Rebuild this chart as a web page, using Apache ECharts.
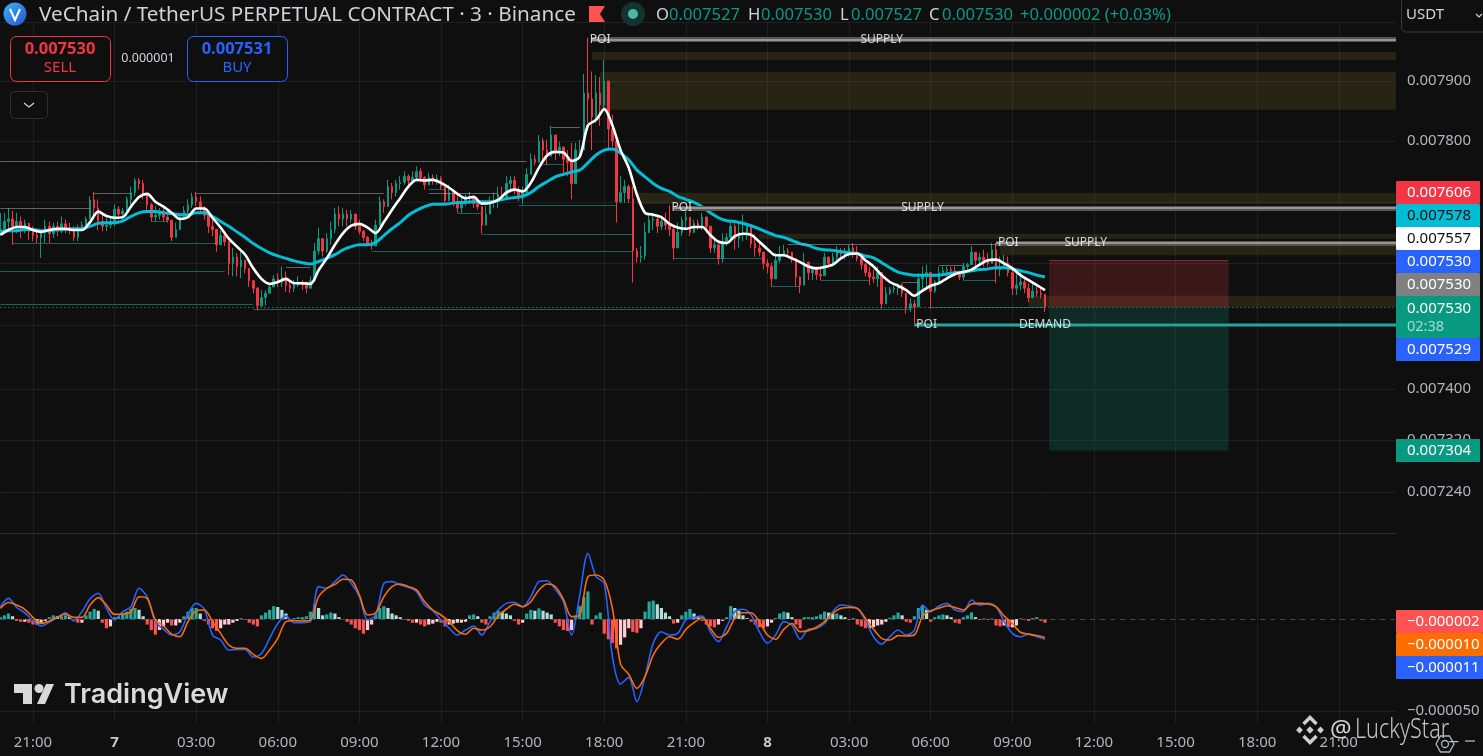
<!DOCTYPE html>
<html><head><meta charset="utf-8">
<style>html,body{margin:0;padding:0;background:#0f0f0f;overflow:hidden}#c{width:1483px;height:756px}</style>
<script src="https://cdn.jsdelivr.net/npm/echarts@6/dist/echarts.min.js"></script>
</head><body><div id="c"></div>
<script>
// All prices in units of 0.000001 USDT. Each slot is 9 minutes of the picture.
const tickSlots=[8,28,48,68,88,108,128,148,168,188,208,228,248,268,288,308,328];
const tickLabels=['21:00','7','03:00','06:00','09:00','12:00','15:00','18:00','21:00','8','03:00','06:00','09:00','12:00','15:00','18:00','21:00'];
const priceTicks=[8000,7900,7800,7700,7600,7500,7400,7320,7240];
const priceLabelTicks=[7900,7800,7400,7320,7240];
const macdTicks=[-50];
const opens=[7650,7655,7668,7672,7660,7668,7658,7665,7652,7645,7642,7650,7660,7648,7660,7652,7664,7658,7656,7642,7655,7662,7672,7703,7690,7668,7660,7662,7668,7688,7680,7685,7704,7715,7735,7730,7712,7695,7675,7678,7685,7675,7670,7642,7655,7675,7685,7695,7708,7700,7690,7678,7660,7655,7630,7645,7635,7600,7610,7595,7605,7592,7572,7560,7532,7545,7552,7562,7575,7570,7578,7565,7560,7565,7570,7565,7560,7572,7620,7640,7620,7640,7655,7680,7672,7680,7672,7680,7660,7652,7642,7632,7628,7662,7700,7692,7725,7715,7730,7732,7742,7735,7740,7750,7740,7728,7740,7735,7738,7725,7702,7715,7700,7690,7698,7705,7708,7697,7692,7662,7680,7700,7700,7712,7708,7730,7735,7720,7706,7715,7745,7770,7765,7800,7785,7775,7810,7785,7790,7770,7765,7730,7785,7785,7880,7870,7840,7880,7860,7900,7820,7800,7700,7715,7725,7705,7620,7610,7612,7650,7670,7672,7660,7668,7662,7655,7625,7650,7670,7675,7650,7665,7660,7675,7660,7625,7630,7608,7635,7642,7660,7640,7650,7650,7660,7632,7625,7618,7600,7595,7575,7605,7615,7620,7618,7608,7578,7565,7602,7585,7590,7582,7580,7610,7600,7610,7620,7615,7618,7625,7615,7608,7598,7585,7578,7575,7585,7535,7552,7558,7560,7565,7552,7528,7535,7530,7575,7580,7585,7555,7570,7585,7588,7590,7588,7585,7578,7595,7598,7618,7605,7610,7605,7600,7622,7590,7595,7600,7585,7560,7565,7570,7560,7545,7555,7552,7550];
const closes=[7655,7668,7672,7660,7668,7658,7665,7652,7645,7642,7650,7660,7648,7660,7652,7664,7658,7656,7642,7655,7662,7672,7703,7690,7668,7660,7662,7668,7688,7680,7685,7704,7715,7735,7730,7712,7695,7675,7678,7685,7675,7670,7642,7655,7675,7685,7695,7708,7700,7690,7678,7660,7655,7630,7645,7635,7600,7610,7595,7605,7592,7572,7560,7532,7545,7552,7562,7575,7570,7578,7565,7560,7565,7570,7565,7560,7572,7620,7640,7620,7640,7655,7680,7672,7680,7672,7680,7660,7652,7642,7632,7628,7662,7700,7692,7725,7715,7730,7732,7742,7735,7740,7750,7740,7728,7740,7735,7738,7725,7702,7715,7700,7690,7698,7705,7708,7697,7692,7662,7680,7700,7700,7712,7708,7730,7735,7720,7706,7715,7745,7770,7765,7800,7785,7775,7810,7785,7790,7770,7765,7730,7785,7785,7880,7870,7840,7880,7860,7900,7820,7800,7700,7715,7725,7705,7620,7610,7612,7650,7670,7672,7660,7668,7662,7655,7625,7650,7670,7675,7650,7665,7660,7675,7660,7625,7630,7608,7635,7642,7660,7640,7650,7650,7660,7632,7625,7618,7600,7595,7575,7605,7615,7620,7618,7608,7578,7565,7602,7585,7590,7582,7580,7610,7600,7610,7620,7615,7618,7625,7615,7608,7598,7585,7578,7575,7585,7535,7552,7558,7560,7565,7552,7528,7535,7530,7575,7580,7585,7555,7570,7585,7588,7590,7588,7585,7578,7595,7598,7618,7605,7610,7605,7600,7622,7590,7595,7600,7585,7560,7565,7570,7560,7545,7555,7552,7550,7530];
const highs=[7682,7682,7690,7685,7682,7676,7671,7660,7660,7654,7652,7671,7668,7666,7668,7676,7671,7666,7660,7663,7668,7676,7709,7716,7704,7682,7676,7676,7696,7693,7690,7709,7725,7739,7739,7736,7715,7698,7693,7690,7690,7687,7666,7666,7682,7693,7704,7715,7716,7709,7693,7682,7671,7654,7654,7649,7633,7625,7617,7619,7606,7584,7573,7562,7557,7557,7568,7581,7584,7595,7587,7573,7573,7579,7573,7571,7579,7633,7658,7633,7649,7668,7690,7693,7690,7687,7687,7674,7671,7654,7644,7638,7671,7709,7704,7736,7731,7736,7742,7750,7745,7750,7758,7755,7742,7747,7745,7745,7742,7723,7728,7720,7709,7709,7712,7716,7709,7704,7690,7693,7709,7715,7725,7725,7742,7742,7742,7725,7725,7755,7780,7777,7810,7805,7802,7825,7802,7799,7791,7785,7797,7797,7802,7912,7973,7916,7910,7907,7935,7852,7844,7797,7742,7736,7728,7725,7625,7628,7666,7682,7682,7679,7676,7682,7694,7660,7666,7676,7690,7660,7671,7671,7682,7676,7654,7638,7628,7649,7649,7671,7666,7666,7679,7666,7647,7647,7633,7617,7606,7601,7617,7628,7630,7625,7617,7606,7579,7617,7601,7595,7595,7595,7617,7611,7617,7628,7625,7625,7630,7633,7628,7611,7601,7595,7590,7595,7562,7562,7562,7568,7568,7568,7546,7544,7541,7584,7595,7598,7568,7573,7595,7595,7595,7595,7595,7587,7601,7601,7628,7614,7617,7622,7617,7633,7633,7611,7614,7611,7595,7584,7587,7579,7568,7571,7562,7562,7541];
const lows=[7649,7654,7654,7630,7649,7641,7649,7638,7636,7633,7609,7633,7633,7641,7644,7649,7649,7647,7636,7636,7652,7654,7676,7676,7654,7652,7652,7657,7660,7671,7666,7676,7693,7709,7720,7704,7682,7668,7668,7671,7668,7666,7636,7644,7660,7671,7676,7690,7693,7682,7671,7649,7644,7619,7633,7628,7581,7579,7579,7576,7584,7562,7552,7524,7530,7532,7552,7562,7562,7562,7554,7552,7554,7562,7557,7552,7560,7579,7614,7611,7617,7630,7649,7660,7660,7660,7666,7654,7647,7636,7628,7622,7638,7676,7682,7698,7704,7709,7720,7728,7725,7734,7736,7734,7720,7731,7728,7728,7720,7696,7704,7693,7682,7682,7693,7696,7690,7687,7648,7668,7682,7690,7690,7704,7704,7715,7712,7701,7696,7720,7758,7760,7785,7769,7760,7775,7769,7775,7747,7742,7704,7758,7775,7808,7830,7785,7830,7825,7852,7788,7791,7666,7698,7698,7698,7569,7601,7601,7606,7649,7654,7649,7654,7654,7644,7606,7633,7644,7654,7644,7649,7654,7654,7649,7617,7617,7598,7601,7628,7638,7622,7625,7636,7638,7625,7611,7611,7590,7584,7562,7579,7601,7611,7609,7601,7562,7552,7579,7573,7573,7573,7573,7595,7595,7595,7601,7606,7606,7611,7609,7603,7590,7579,7565,7568,7562,7527,7544,7549,7552,7549,7546,7519,7522,7500,7546,7557,7562,7527,7552,7576,7579,7579,7579,7579,7573,7573,7584,7601,7595,7595,7595,7595,7601,7568,7579,7595,7579,7549,7549,7557,7552,7538,7544,7546,7544,7522];
// Moving averages and MACD lines are read at every second slot.
const emaFast=[7646,7654,7659,7659,7654,7651,7654,7656,7656,7654,7654,7667,7684,7677,7674,7675,7692,7708,7713,7700,7692,7682,7672,7675,7689,7689,7674,7658,7640,7627,7614,7592,7575,7567,7570,7575,7568,7568,7567,7589,7608,7630,7649,7661,7664,7658,7649,7667,7687,7706,7725,7736,7735,7736,7731,7723,7713,7706,7708,7697,7698,7703,7715,7720,7717,7731,7756,7776,7782,7781,7767,7774,7826,7835,7853,7826,7785,7756,7712,7682,7679,7675,7664,7658,7656,7659,7659,7646,7635,7633,7644,7648,7646,7635,7623,7613,7613,7608,7602,7595,7592,7594,7598,7608,7615,7616,7605,7595,7581,7570,7564,7557,7548,7556,7564,7568,7576,7583,7586,7590,7598,7605,7606,7600,7592,7581,7573,7565,7557];
const emaSlow=[7651,7653,7653,7655,7655,7653,7653,7655,7655,7656,7656,7660,7665,7666,7666,7669,7676,7682,7684,7684,7682,7681,7679,7679,7682,7682,7676,7668,7660,7651,7642,7632,7624,7617,7612,7608,7604,7601,7599,7603,7608,7614,7622,7627,7630,7630,7634,7645,7656,7666,7678,7686,7692,7696,7696,7697,7699,7699,7700,7700,7700,7702,7705,7707,7709,7715,7725,7733,7741,7745,7749,7752,7764,7777,7785,7787,7780,7769,7752,7741,7730,7722,7717,7709,7704,7699,7692,7682,7674,7669,7668,7665,7661,7656,7650,7645,7642,7637,7632,7629,7624,7622,7621,7619,7617,7616,7612,7609,7601,7593,7586,7583,7581,7581,7581,7581,7583,7585,7586,7588,7590,7591,7593,7593,7591,7588,7585,7581,7578];
const macdLine=[6.7,11.2,6.3,3.4,-0.9,-3.8,-1.8,0.9,3.4,-1,4,11,14,5.8,-0.5,4,6.7,16.7,12,-1.4,-5.6,-8.7,-6.9,2.7,8.5,5.3,-8.7,-11.4,-16.8,-16.5,-16.5,-20.8,-18.7,-10.5,-2.4,1.6,-2,-2,-1.4,17.6,16.7,20.3,23.9,19.4,12.1,-0.5,2.2,19.4,20.3,18.5,17.2,14.9,7.6,4.5,-0.5,-5,-8.7,-6,-3.8,-8.7,-1.4,4.9,8.5,9.1,6.7,12.1,20.3,20.8,16.1,9.4,-8.7,13,35.7,23,19.4,-20.5,-35.3,-31.7,-44.9,-31.3,-13.2,-6.9,-8.7,-7.8,-0.5,0.9,1.6,-6.9,-12.3,-4.2,4,5.3,2.2,-6.9,-13.2,-8.7,-1.4,-3.3,-11,-5.6,-5.1,-2.4,4,7.6,7.1,5.8,-0.5,-9.6,-13.6,-9.6,-6,-8.7,-6,7.6,4,7.1,8.5,4.9,4,10.3,7.6,8.5,6.7,-1.4,-7.8,-9.6,-8.2,-9.6,-11];
const signalLine=[5.8,9,7.6,5.3,0.9,-2.4,-1.1,0.9,2.7,0.9,0.9,7.6,11.6,7.6,2.5,2.7,4,12.1,11.2,-0.5,-3.8,-8.2,-9.6,-1.4,4.5,4.9,-1.4,-7.8,-14.1,-15.9,-15.9,-19.2,-21.4,-16.8,-10.5,-1.4,-0.9,-1.1,-0.5,12.1,16.7,18.8,21.6,21.2,13,2.2,3.4,12.1,17.6,19,17.6,15.8,9.4,4.9,2.2,-1.4,-6.3,-8.3,-5,-6,-4.2,1.6,5.3,8,6.7,9.4,15.8,19,17.6,10.7,1.3,2.2,23,23.9,21.2,5.8,-24.5,-30,-37.7,-31.3,-19.6,-13.2,-9.6,-10.9,-5.6,-2,0.7,-5,-10,-7.8,0.4,3.4,3.4,-1.4,-8.7,-11,-5.6,-2.4,-6.9,-6.3,-4.5,-1.4,3.1,5.8,6.3,5.8,0.4,-5.6,-10.5,-11.4,-9,-9.2,-8.7,1.6,4.5,5.8,7.2,6.2,4.9,8.2,8.5,8.2,6.7,1.6,-2.4,-7.2,-8.2,-9,-10];
const histogram=[1,2,3,1.5,-1,-1.5,-1.5,-2,-3,-3,-2,-1,1,2,1.5,1.5,2,1.5,-1,-2,-2,2,4,5.5,4.5,-2,-5,-4,1,1.5,3,4,5.5,6,5,1.5,-3,-6,-8.5,-6,-4,-2,-3.5,-3.5,-2,1.5,4,6,6,3,-1,-3,-5,-6.5,-5,-3,-3,-2,-1,0.5,-0.5,-2,-3,-4,2,3.5,5,7,6.5,5,3,-1,0.5,1,1,1.5,4,8,6,2,2.5,3.5,3,1,-0.5,-1.5,-3,-5,-6,-8,-6,-3,3,6,7,6,3,2,1,-0.5,-1,-2,-2,-3,-4,-3,-2.5,-1.5,-2,-4,-3,-2.5,-2,-2,-1.5,2,2.5,1.5,-2,-3,1.5,3.5,4.5,4,3,2,-1,-3,-2,3,5,4.5,5.8,4.5,3.5,2.5,-2,-4,-6,-6.5,-6,2,7,12,15,-3,2,3.5,-8,-11,-13,-16,-14,-10,-5,-7,-7.5,-5,4,9.5,10,8,6,3.5,1.5,-2.5,-2,2,4,5.5,3,1.5,-1,-3,-4,-4.5,-3,-1,1,7,6,4.5,2,0.5,-1.5,-3,-4.5,-5,-4,-2,0.5,3,4,3.5,1,-3,-5,1,1,1,1.5,2.5,4,3.5,3,3,2,1,-0.5,0.5,-3,-4,-5,-5,-4.5,-3.5,-3,-1.5,0.7,2,3.5,2,-1.5,-2,1.5,6,7.5,5,-1.5,1,2,2.5,2,1,-2,-2.5,1,2,3.6,1,-0.5,0.3,-0.5,0.3,-3.5,-4,-3.5,-4.5,-4.5,-3.5,0.3,-0.5,-1,0.5,1,-1,-2];
// Annotations: [first slot, last slot, price(s)]
const supplyZones=[[145,342,7949,7935],[147,342,7915,7852],[156,342,7715,7697],[186,342,7648,7640],[245,342,7629,7613],[252,342,7548,7530]];
const thickSupply=[[145,342,7970],[165,342,7690],[244,342,7633]];
const thickDemand=[[224,342,7502]];
const greyLevels=[[0,129,7766],[23,32,7714],[48,94,7714],[105,122,7714],[0,22,7690],[135,142,7823],[70,76,7594],[193,244,7631],[221,225,7570],[230,236,7597]];
const tealLevels=[[3,53,7633],[0,55,7588],[0,62,7535],[62,223,7526],[91,155,7619],[118,155,7647],[127,151,7694],[105,109,7721],[112,118,7681],[37,41,7668],[133,138,7762],[165,187,7609],[189,196,7563],[201,213,7573],[228,256,7530],[236,244,7573]];
const levelTexts=[[147,7970,'POI'],[216,7970,'SUPPLY'],[167,7690,'POI'],[226,7690,'SUPPLY'],[247,7633,'POI'],[266,7633,'SUPPLY'],[227,7502,'POI'],[256,7502,'DEMAND']];
const lastPrice=7530, targetPrice=7304, stopPrice=7605, riskStart=257, riskEnd=301;

const N=343, BG='#0f0f0f', GRID='#1f1f1f', TXT='#b2b5be';
const slots=[];for(let i=0;i<N;i++){const t=tickSlots.indexOf(i);slots.push(t>=0?tickLabels[t]:'s'+i);}
const isTick=i=>tickSlots.indexOf(i)>=0;
const candles=closes.map((c,i)=>[opens[i],c,lows[i],highs[i]]);
const every2=a=>a.map((v,k)=>[k*2,v]);
const fmt=v=>(v<0?'\u2212':'')+(Math.abs(v)/1e6).toFixed(6);
const lineData=(arr)=>arr.map(a=>[{coord:[a[0],a[2]]},{coord:[a[1],a[2]]}]);
const mkLines=(arr,color,width,z)=>({type:'line',data:[],xAxisIndex:0,yAxisIndex:0,z:z,silent:true,
  markLine:{silent:true,symbol:'none',animation:false,label:{show:false},lineStyle:{color:color,width:width,type:'solid'},data:lineData(arr)}});

const option={
 backgroundColor:BG,animation:false,
 grid:[{left:0.3,width:1395.6,top:21.8,height:511.2,containLabel:false},{left:0.3,width:1395.6,top:534,height:189}],
 xAxis:[
  {type:'category',gridIndex:0,data:slots,boundaryGap:false,axisLine:{show:true,lineStyle:{color:'#2a2e39'}},axisTick:{show:false},axisLabel:{show:false},
   splitLine:{show:true,interval:(i)=>isTick(i),lineStyle:{color:GRID}}},
  {type:'category',gridIndex:1,data:slots,boundaryGap:false,axisLine:{show:false},axisTick:{show:false},
   axisLabel:{show:true,interval:(i)=>isTick(i),hideOverlap:false,color:TXT,fontSize:15,margin:12.5,fontFamily:'Noto Sans',
     formatter:v=>(v==='7'||v==='8')?'{b|'+v+'}':v,rich:{b:{fontWeight:'bold',fontSize:15,color:'#c5c8d0',fontFamily:'Noto Sans'}}},
   splitLine:{show:true,interval:(i)=>isTick(i),lineStyle:{color:GRID}}}
 ],
 yAxis:[
  {type:'log',logBase:10,gridIndex:0,position:'right',min:7177.1,max:8000,axisLine:{show:false},
   axisTick:{show:false,customValues:priceTicks},
   axisLabel:{show:true,customValues:priceLabelTicks,color:TXT,fontSize:15,margin:11,fontFamily:'Noto Sans',formatter:v=>fmt(v)},
   splitLine:{show:true,lineStyle:{color:GRID}},minorTick:{show:false},minorSplitLine:{show:false}},
  {type:'value',gridIndex:1,position:'right',min:-56.5,max:46.2,axisLine:{show:false},
   axisTick:{show:false,customValues:macdTicks},
   axisLabel:{show:true,customValues:macdTicks,color:TXT,fontSize:15,margin:11,fontFamily:'Noto Sans',formatter:v=>fmt(v)},
   splitLine:{show:true,lineStyle:{color:GRID}}}
 ],
 series:[
  {type:'line',data:[],xAxisIndex:0,yAxisIndex:0,z:1,silent:true,
   markArea:{silent:true,animation:false,itemStyle:{color:'rgba(160,145,60,0.17)'},data:supplyZones.map(a=>[{coord:[a[0],a[2]]},{coord:[a[1],a[3]]}])}},
  {type:'line',data:[],xAxisIndex:0,yAxisIndex:0,z:1,silent:true,
   markArea:{silent:true,animation:false,data:[
    [{coord:[riskStart,stopPrice],itemStyle:{color:'rgba(242,54,69,0.2)'}},{coord:[riskEnd,lastPrice]}],
    [{coord:[riskStart,lastPrice],itemStyle:{color:'rgba(8,153,129,0.2)'}},{coord:[riskEnd,targetPrice]}]]},
   markLine:{silent:true,symbol:'none',animation:false,label:{show:false},lineStyle:{color:'rgba(242,90,60,0.35)',type:'solid',width:1},data:[[{coord:[riskStart,stopPrice]},{coord:[riskEnd,stopPrice]}]]}},
  mkLines(greyLevels,'rgba(170,170,170,0.55)',1,2),
  mkLines(tealLevels,'rgba(38,166,154,0.55)',1,2),
  mkLines(thickSupply,'#555553',5,2),
  mkLines(thickSupply,'#97968f',2,2),
  mkLines(thickDemand,'#1c5e58',4,2),
  mkLines(thickDemand,'#26a69a',2,2),
  {type:'line',data:[],xAxisIndex:0,yAxisIndex:0,z:2,silent:true,
   markLine:{silent:true,symbol:'none',animation:false,label:{show:false},lineStyle:{color:'#26a69a',type:[1,3],width:1},data:[[{coord:[0,lastPrice]},{coord:[342,lastPrice]}]]}},
  {type:'candlestick',xAxisIndex:0,yAxisIndex:0,data:candles,z:3,barWidth:2,silent:true,
   itemStyle:{color:'#089981',color0:'#f23645',borderColor:'#089981',borderColor0:'#f23645',borderWidth:1}},
  {type:'line',xAxisIndex:0,yAxisIndex:0,data:every2(emaSlow),z:4,smooth:0.3,showSymbol:false,silent:true,lineStyle:{color:'#00bcd4',width:3}},
  {type:'line',xAxisIndex:0,yAxisIndex:0,data:every2(emaFast),z:5,smooth:0.3,showSymbol:false,silent:true,lineStyle:{color:'#ffffff',width:2.6}},
  {type:'scatter',xAxisIndex:0,yAxisIndex:0,data:levelTexts,z:6,symbolSize:1,silent:true,itemStyle:{color:'rgba(0,0,0,0)'},
   label:{show:true,position:'inside',formatter:p=>p.data[2],color:'#ffffff',fontSize:12,fontFamily:'Noto Sans'}},
  {type:'bar',xAxisIndex:1,yAxisIndex:1,data:histogram,barWidth:3.2,z:3,silent:true,
   itemStyle:{color:p=>{const v=p.value,o=p.dataIndex>0?histogram[p.dataIndex-1]:0;return v>=0?(v>=o?'#26a69a':'#b2dfdb'):(v>=o?'#ffcdd2':'#ff5252');}},
   markLine:{silent:true,symbol:'none',animation:false,label:{show:false},lineStyle:{color:'#4a4a4a',type:[5,5],width:1},data:[{yAxis:0}]}},
  {type:'line',xAxisIndex:1,yAxisIndex:1,data:every2(macdLine),z:4,smooth:0.3,showSymbol:false,silent:true,lineStyle:{color:'#2962ff',width:1.6}},
  {type:'line',xAxisIndex:1,yAxisIndex:1,data:every2(signalLine),z:5,smooth:0.3,showSymbol:false,silent:true,lineStyle:{color:'#ff6d00',width:1.6}}
 ],
 graphic:[]
};

// Header, order buttons, price tags, watermarks
const g=[];
const T=(x,y,t,o,extra)=>g.push(Object.assign({type:'text',x:x,y:y,z:100,silent:true,style:Object.assign({text:t,fill:'#d1d4dc',font:'14px "Noto Sans"',textVerticalAlign:'middle',textBaseline:'middle'},o||{})},extra||{}));
const R=(x,y,w,h,s,r)=>g.push({type:'rect',z:99,silent:true,shape:{x:x,y:y,width:w,height:h,r:r||0},style:s});
g.push({type:'circle',z:100,silent:true,shape:{cx:15,cy:14,r:11.5},style:{fill:{type:'linear',x:0,y:0,x2:1,y2:1,colorStops:[{offset:0,color:'#38b6ff'},{offset:1,color:'#2a50c8'}]}}});
g.push({type:'polyline',z:101,silent:true,shape:{points:[[10,9],[15,20],[20,9]]},style:{stroke:'#fff',lineWidth:2,fill:null}});
const titleText='VeChain / TetherUS PERPETUAL CONTRACT \u00b7 3 \u00b7 Binance';
T(39,15,titleText,{font:'20.7px "Noto Sans"',fill:'#cfd2d8'});
g.push({type:'polygon',z:100,silent:true,shape:{points:[[589,6],[605,6],[600,14],[605,22],[589,22]]},style:{fill:'#ff5252'}});
g.push({type:'circle',z:100,silent:true,shape:{cx:633,cy:14,r:12},style:{fill:'#12332f'}});
g.push({type:'circle',z:101,silent:true,shape:{cx:633,cy:14,r:5},style:{fill:'#4db6a5'}});
const ohlc=[[656,'O',0],[669,'0.007527',1],[748,'H',0],[761,'0.007530',1],[840,'L',0],[851,'0.007527',1],[929,'C',0],[942,'0.007530',1],[1020,'+0.000002 (+0.03%)',1]];
ohlc.forEach(a=>T(a[0],15,a[1],{font:'16.6px "Noto Sans"',fill:a[2]?'#089981':'#d1d4dc'}));
R(10.5,36.5,100,45,{fill:BG,stroke:'#f23645',lineWidth:1},6);
T(60,49,'0.007530',{font:'bold 16.5px "Noto Sans"',fill:'#f23645',textAlign:'center'});
T(60,68,'SELL',{font:'15px "Noto Sans"',fill:'#f23645',textAlign:'center'});
T(148,58,'0.000001',{font:'12.5px "Noto Sans"',fill:'#d1d4dc',textAlign:'center'});
R(187.5,36.5,100,45,{fill:BG,stroke:'#2962ff',lineWidth:1},6);
T(237,49,'0.007531',{font:'bold 16.5px "Noto Sans"',fill:'#2962ff',textAlign:'center'});
T(237,68,'BUY',{font:'15px "Noto Sans"',fill:'#2962ff',textAlign:'center'});
R(10.5,91.5,37,27,{fill:BG,stroke:'#2e2e2e',lineWidth:1},4);
g.push({type:'polyline',z:100,silent:true,shape:{points:[[24,103],[29,107],[34,103]]},style:{stroke:'#d1d4dc',lineWidth:1.3,fill:null}});
R(1401.5,-3,90,35,{fill:BG,stroke:'#363a45',lineWidth:1},5);
T(1406,15,'USDT',{font:'15px "Noto Sans"',fill:'#d1d4dc'});
g.push({type:'polyline',z:100,silent:true,shape:{points:[[1476,14],[1479,17],[1482,14]]},style:{stroke:'#d1d4dc',lineWidth:1.2,fill:null}});
const tags=[['0.007606','#f23645','#fff',181,23],['0.007578','#00bcd4','#0f0f0f',204,23],['0.007557','#ffffff','#0f0f0f',227,23],['0.007530','#2962ff','#fff',250,23],['0.007530','#808080','#fff',273,23],['0.007530','#089981','#fff',296,42],['0.007529','#2962ff','#fff',338,23],['0.007304','#089981','#fff',439,23],['\u22120.000002','#ff5252','#fff',610,23],['\u22120.000010','#ff6d00','#fff',633,23],['\u22120.000011','#2962ff','#fff',656,23]];
tags.forEach(a=>{R(1396,a[3],a[0][0]==='\u2212'?87:84,a[4],{fill:a[1]},1);T(1407,a[3]+(a[4]>23?13:11.5),a[0],{font:'15px "Noto Sans"',fill:a[2]});});
T(1407,327,'02:38',{font:'14.5px "Noto Sans"',fill:'#a5dccf'});
// TradingView mark
g.push({type:'polygon',z:100,silent:true,shape:{points:[[14,684],[32,684],[32,704],[23,704],[23,693],[14,693]]},style:{fill:'#d9d9d9'}});
g.push({type:'circle',z:100,silent:true,shape:{cx:39,cy:688.5,r:4.5},style:{fill:'#d9d9d9'}});
g.push({type:'polygon',z:100,silent:true,shape:{points:[[46,684],[54,684],[45,704],[37,704]]},style:{fill:'#d9d9d9'}});
T(64,695,'TradingView',{font:'600 27px "Inter"',fill:'#d9d9d9'});
// Binance mark + watermark
[[0,0,2.6],[-10.5,0,2.4],[10.5,0,2.4]].forEach(a=>g.push({type:'rect',z:100,silent:true,x:1310+a[0],y:730+a[1],rotation:Math.PI/4,shape:{x:-a[2],y:-a[2],width:2*a[2],height:2*a[2]},style:{fill:'#cfcfcf'}}));
g.push({type:'polyline',z:100,silent:true,shape:{points:[[1303.5,724],[1310,717.5],[1316.5,724]]},style:{stroke:'#cfcfcf',lineWidth:3.4,fill:null}});
g.push({type:'polyline',z:100,silent:true,shape:{points:[[1303.5,736],[1310,742.5],[1316.5,736]]},style:{stroke:'#cfcfcf',lineWidth:3.4,fill:null}});
T(1330,730,'@',{font:'24px "Noto Sans"',fill:'#d4d4d4'});
T(1355,730,'LuckyStar_',{font:'300 27px "Noto Sans"',fill:'#c4c4c4'},{scaleX:0.8});
g.push({type:'polygon',z:100,silent:true,shape:{points:[[1436,744],[1440.5,736],[1449.5,736],[1454,744],[1449.5,752],[1440.5,752]]},style:{fill:null,stroke:'#b2b5be',lineWidth:1.3}});
g.push({type:'circle',z:100,silent:true,shape:{cx:1445,cy:744,r:3.5},style:{fill:null,stroke:'#b2b5be',lineWidth:1.3}});
g.push({type:'line',z:100,silent:true,shape:{x1:1465,y1:741,x2:1475,y2:741},style:{stroke:'#b2b5be',lineWidth:1.3}});
option.graphic=g;
const chart=echarts.init(document.getElementById('c'),null,{renderer:'canvas'});
chart.setOption(option);
</script></body></html>
